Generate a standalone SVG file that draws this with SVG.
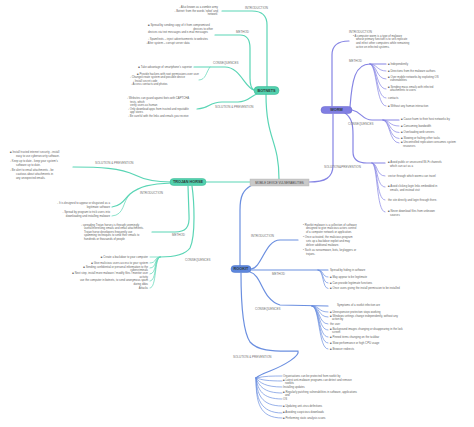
<svg xmlns="http://www.w3.org/2000/svg" width="474" height="427" viewBox="0 0 474 427">
<style>
text{font-family:"Liberation Sans",Arial,sans-serif;fill:#5f5f5f}
.lf{font-size:2.8px}
.lb{font-size:3px;fill:#707070}
.nd{font-size:3.8px;fill:#2d3b3a;font-weight:bold;text-anchor:middle}
.ce{font-size:2.9px;fill:#444;text-anchor:middle}
.r{text-anchor:end}
.t{fill:none;stroke:#5ad5b5;stroke-width:1.2;stroke-linecap:round}
.tt{fill:none;stroke:#5ad5b5;stroke-width:0.7;stroke-linecap:round}
.p{fill:none;stroke:#8584e4;stroke-width:1.2;stroke-linecap:round}
.pt{fill:none;stroke:#8584e4;stroke-width:0.7;stroke-linecap:round}
.b{fill:none;stroke:#6b8fe0;stroke-width:1.2;stroke-linecap:round}
.bt{fill:none;stroke:#6b8fe0;stroke-width:0.7;stroke-linecap:round}
</style>
<rect width="474" height="427" fill="#fff"/>
<g id="connectors">
<path class="t" d="M266 94 C266 140 279 140 279 179"/>
<path class="t" d="M206 182 L250 182"/>
<path class="p" d="M309 182 C325 182 333 178 333 165 L333 114"/>
<path class="b" d="M252 185 C243 190 240 196 240 210 L240 266"/>
<path class="t" d="M222 11 L252 11 C262 11 267 15 267 25 L267 87"/>
<path class="t" d="M215 35 L240 35 C247 35 250 40 250 48 L250 78 C250 85 252 89 254 90"/>
<path class="t" d="M194 67 L225 67 C240 67 245 88 254 90"/>
<path class="tt" d="M199 80 C206 80 206 72 210 67"/>
<path class="t" d="M197 109 C210 109 208 102 222 102 L238 102 C248 102 252 95 257 94"/>
<path class="t" d="M73 167 C100 167 120 168 135 175 C145 180 155 182 171 182"/>
<path class="t" d="M172 183 C150 184 140 186 130 194 C125 198 122 206 112 207"/>
<path class="tt" d="M130 194 C122 202 125 215 112 216"/>
<path class="t" d="M188 186 L189 215 C190 228 185 232 175 232 L152 232"/>
<path class="t" d="M192 186 C194 200 196 235 190 248 C185 255 175 257 160 257"/>
<path class="tt" d="M160 257 L150 257"/>
<path class="tt" d="M160 257 C154 257 157 263 150 263"/>
<path class="tt" d="M160 257 C154 258 157 268 150 268"/>
<path class="tt" d="M160 257 C154 258 157 274 150 274"/>
<path class="tt" d="M160 257 C154 258 157 281 150 281"/>
<path class="tt" d="M160 257 C154 258 157 288 150 288"/>
<path class="p" d="M332 106 L332 55 C332 45 338 41 349 41"/>
<path class="p" d="M350 107 C352 80 355 64 370 64 L386 64"/>
<path class="pt" d="M370 64 C377 64 377 71 386 71"/>
<path class="pt" d="M370 64 C377 64 376 79 386 79"/>
<path class="pt" d="M370 64 C377 64 376 89 386 89"/>
<path class="pt" d="M370 64 C377 64 376 98 386 98"/>
<path class="pt" d="M370 64 C377 64 376 106 386 106"/>
<path class="p" d="M352 110 C362 112 362 120 372 120 L399 120"/>
<path class="pt" d="M383 120 C390 120 389 126 399 126"/>
<path class="pt" d="M383 120 C390 120 389 132.5 399 132.5"/>
<path class="pt" d="M383 120 C390 120 389 138.5 399 138.5"/>
<path class="pt" d="M383 120 C390 120 389 143 399 143"/>
<path class="p" d="M345 113 C352 118 353 125 353 135 L353 152 C353 160 358 163 367 163 L385 163"/>
<path class="pt" d="M372 163 C378 163 376 176 385 176"/>
<path class="pt" d="M372 163 C378 163 376 187 385 187"/>
<path class="pt" d="M372 163 C378 163 376 200 385 200"/>
<path class="pt" d="M372 163 C378 163 376 212 385 212"/>
<path class="b" d="M251 269 C262 268 265 240 280 240 L298 240"/>
<path class="b" d="M251 270 L328 270"/>
<path class="bt" d="M318 270 C324 270 322 277 328 277"/>
<path class="bt" d="M318 270 C324 270 322 283 328 283"/>
<path class="bt" d="M318 270 C324 270 322 288.5 328 288.5"/>
<path class="b" d="M250 272 C262 275 262 300 280 305 L328 306"/>
<path class="bt" d="M312 306 C320 306 318 312 328 312"/>
<path class="bt" d="M312 306 C320 306 318 317 328 317"/>
<path class="bt" d="M312 306 C320 306 318 324 328 324"/>
<path class="bt" d="M312 306 C320 306 318 330 328 330"/>
<path class="bt" d="M312 306 C320 306 318 337 328 337"/>
<path class="bt" d="M312 306 C320 306 318 343 328 343"/>
<path class="bt" d="M312 306 C320 306 318 349 328 349"/>
<path class="b" d="M241 273 C241 300 242 330 250 342 C257 350 270 352 298 351 C300 356 285 365 270 371 C262 374 258 376 256 378"/>
<path class="bt" d="M256 378 C265 376 272 376 282 376"/>
<path class="bt" d="M256 378 C262 380 268 381 282 381"/>
<path class="bt" d="M256 378 C260 383 266 387 282 387"/>
<path class="bt" d="M256 378 C259 386 264 393 282 393"/>
<path class="bt" d="M256 378 C258 390 262 399 282 399"/>
<path class="bt" d="M256 378 C257 394 261 406 282 406"/>
<path class="bt" d="M256 378 C256 398 260 413 282 413"/>
<path class="bt" d="M256 378 C256 402 259 418 282 418"/>
</g>
<g id="center">
<rect x="250" y="179" width="59" height="7" fill="#c9c9c9" stroke="#b5b5b5" stroke-width="0.4"/>
<text class="ce" x="279.5" y="183.6">MOBILE DEVICE VULNERABILITIES</text>
</g>
<g id="botnets">
<rect x="254" y="86.5" width="25" height="8" rx="4" fill="#52d1ae" stroke="#35b792" stroke-width="0.5"/>
<text class="nd" x="266.5" y="92">BOTNETS</text>
<text class="lb" x="245" y="8.5">INTRODUCTION</text>
<text class="lf r" x="218" y="7.5">- Also known as a zombie army</text>
<text class="lf r" x="218" y="11.5">- Botnet: from the words 'robot' and</text>
<text class="lf r" x="218" y="15">'network'</text>
<text class="lb" x="236" y="32.5">METHOD</text>
<text class="lf" x="148" y="26">■ Spread by sending copy of it from compromised</text>
<text class="lf r" x="213" y="29.5">devices to other</text>
<text class="lf" x="148" y="33">devices via text messages and e-mail messages</text>
<text class="lf" x="148" y="40">◦ Spam/texts – inject advertisements to websites</text>
<text class="lf" x="146" y="44">◦ Alter system – corrupt server data</text>
<text class="lb" x="213" y="63.5">CONSEQUENCES</text>
<text class="lf r" x="192" y="67.8">■ Take advantage of smartphone's superior</text>
<text class="lf" x="137" y="74.5">■ Provide hackers with root permissions over user</text>
<text class="lf" x="130" y="78">◦ Change/create system and possible device</text>
<text class="lf" x="133" y="81.5">◦ Install secret code</text>
<text class="lf" x="131" y="85">◦ Access contacts and photos</text>
<text class="lb" x="215" y="108">SOLUTION &amp; PREVENTION</text>
<text class="lf" x="127" y="99">◦ Websites can guard against bots with CAPTCHA</text>
<text class="lf" x="130" y="102.5">tests, which</text>
<text class="lf" x="130" y="106">verify users as human</text>
<text class="lf" x="128" y="109.5">◦ Only download apps from trusted and reputable</text>
<text class="lf" x="130" y="113">app stores</text>
<text class="lf" x="128" y="116.5">◦ Be careful with the links and emails you receive</text>
</g>
<g id="trojan">
<rect x="170" y="178.5" width="36" height="7" rx="3.5" fill="#52d1ae" stroke="#35b792" stroke-width="0.5"/>
<text class="nd" x="188" y="183.4">TROJAN HORSE</text>
<text class="lb" x="95" y="163.5">SOLUTION &amp; PREVENTION</text>
<text class="lf" x="10" y="153">■ Install trusted internet security - install</text>
<text class="lf" x="16" y="157">easy to use cybersecurity software.</text>
<text class="lf" x="10" y="162">◦ Keep up to date - keep your system's</text>
<text class="lf" x="16" y="166">software up to date.</text>
<text class="lf" x="10" y="171">◦ Be alert to email attachments - be</text>
<text class="lf" x="16" y="175">cautious about attachments in</text>
<text class="lf" x="16" y="179">any unexpected emails.</text>
<text class="lb" x="140" y="193.5">INTRODUCTION</text>
<text class="lf r" x="110" y="203.5">- It is designed to appear or disguised as a</text>
<text class="lf r" x="110" y="207.5">legitimate software</text>
<text class="lf r" x="110" y="212.5">- Spread by program to trick users into</text>
<text class="lf r" x="110" y="216.5">downloading and installing malware</text>
<text class="lb" x="172" y="236">METHOD</text>
<text class="lf" x="81" y="225.5">◦ spreading Trojan horses is through seemingly</text>
<text class="lf" x="84" y="229">useful/interesting emails and email attachments.</text>
<text class="lf" x="84" y="232.5">Trojan horse developers frequently use</text>
<text class="lf" x="84" y="236">spamming techniques to send their emails to</text>
<text class="lf" x="84" y="239.5">hundreds or thousands of people</text>
<text class="lb" x="185" y="260.5">CONSEQUENCES</text>
<text class="lf r" x="148" y="258">■ Create a backdoor to your computer</text>
<text class="lf r" x="148" y="263.5">■ Give malicious users access to your system</text>
<text class="lf r" x="148" y="267.5">■ Sending confidential or personal information to the</text>
<text class="lf r" x="148" y="271">cybercriminals</text>
<text class="lf r" x="148" y="274">■ Next step, install more malware / modify files / monitor user</text>
<text class="lf r" x="148" y="277.5">activity</text>
<text class="lf r" x="148" y="281">use the computer in botnets, to send anonymous spam</text>
<text class="lf r" x="148" y="284.5">during ddos</text>
<text class="lf r" x="148" y="289">Attacks</text>
</g>
<g id="worm">
<rect x="321" y="106.5" width="31" height="7" rx="3.5" fill="#807ee2" stroke="#6664cf" stroke-width="0.5"/>
<text class="nd" x="336.5" y="111.4">WORM</text>
<text class="lb" x="349" y="32.5">INTRODUCTION</text>
<text class="lf" x="353" y="36.5">• A computer worm is a type of malware</text>
<text class="lf" x="356" y="40">whose primary function is to self-replicate</text>
<text class="lf" x="356" y="43.5">and infect other computers while remaining</text>
<text class="lf" x="356" y="48">active on infected systems.</text>
<text class="lb" x="349" y="61.5">METHOD</text>
<text class="lf" x="388" y="65">■ Independently</text>
<text class="lf" x="388" y="71.5">■ Directions from the malware authors</text>
<text class="lf" x="388" y="77.5">■ Over mobile networks by exploiting OS</text>
<text class="lf" x="390" y="81">vulnerabilities</text>
<text class="lf" x="388" y="87.5">■ Sending mass emails with infected</text>
<text class="lf" x="390" y="91">attachments to users'</text>
<text class="lf" x="388" y="98.5">contacts</text>
<text class="lf" x="388" y="106.5">■ Without any human interaction</text>
<text class="lb" x="348" y="124.5">CONSEQUENCES</text>
<text class="lf" x="401" y="120">■ Cause harm to their host networks by</text>
<text class="lf" x="401" y="126.5">■ Consuming bandwidth</text>
<text class="lf" x="401" y="133">■ Overloading web servers</text>
<text class="lf" x="401" y="139">■ Slowing or halting other tasks</text>
<text class="lf" x="401" y="143">■ Uncontrolled replication consumes system</text>
<text class="lf" x="403" y="146.5">resources</text>
<text class="lb" x="324" y="167.5">SOLUTION&amp;PREVENTION</text>
<text class="lf" x="388" y="163">■ Avoid public or unsecured Wi-Fi channels</text>
<text class="lf" x="390" y="166.5">which can act as a</text>
<text class="lf" x="388" y="177">vector through which worms can travel</text>
<text class="lf" x="388" y="187">■ Avoid clicking login links embedded in</text>
<text class="lf" x="390" y="190.5">emails, and instead visit</text>
<text class="lf" x="388" y="201">the site directly and login through there.</text>
<text class="lf" x="388" y="212">■ Never download files from unknown</text>
<text class="lf" x="390" y="215.5">sources</text>
</g>
<g id="rookit">
<rect x="231" y="265.5" width="20" height="7" rx="3.5" fill="#5d86dc" stroke="#4570c8" stroke-width="0.5"/>
<text class="nd" x="241" y="270.4">ROOKIT</text>
<text class="lb" x="251" y="236.5">INTRODUCTION</text>
<text class="lf" x="303" y="225.5">• Rootkit malware is a collection of software</text>
<text class="lf" x="306" y="229">designed to give malicious actors control</text>
<text class="lf" x="306" y="233">of a computer network or application.</text>
<text class="lf" x="303" y="238">• Once activated, the malicious program</text>
<text class="lf" x="306" y="242">sets up a backdoor exploit and may</text>
<text class="lf" x="306" y="246">deliver additional malware.</text>
<text class="lf" x="303" y="251">• Such as ransomware, bots, keyloggers or</text>
<text class="lf" x="306" y="255">trojans.</text>
<text class="lb" x="272" y="274.5">METHOD</text>
<text class="lf" x="330" y="271">Spread by hiding in software</text>
<text class="lf" x="330" y="277.5">■ May appear to be legitimate</text>
<text class="lf" x="330" y="283.5">■ Can provide legitimate functions</text>
<text class="lf" x="330" y="289">■ Once users giving the install permission to be installed</text>
<text class="lb" x="255" y="309.5">CONSEQUENCES</text>
<text class="lf" x="337" y="306">Symptoms of a rootkit infection are</text>
<text class="lf" x="330" y="312.5">■ Unresponsive protection stops working</text>
<text class="lf" x="330" y="316.5">■ Windows settings change independently, without any</text>
<text class="lf" x="332" y="320">action by</text>
<text class="lf" x="330" y="324.5">the user</text>
<text class="lf" x="330" y="329.5">■ Background images changing or disappearing in the lock</text>
<text class="lf" x="332" y="333">screen</text>
<text class="lf" x="330" y="337.5">■ Pinned items changing on the taskbar</text>
<text class="lf" x="330" y="343.5">■ Slow performance or high CPU usage</text>
<text class="lf" x="330" y="349.5">■ Browser redirects</text>
<text class="lb" x="233" y="357.5">SOLUTION &amp; PREVENTION</text>
<text class="lf" x="283" y="376.5">Organisations can be protected from rootkit by</text>
<text class="lf" x="283" y="380.5">■ Latest anti-malware programs can detect and remove</text>
<text class="lf" x="285" y="384">rootkits</text>
<text class="lf" x="283" y="388">Installing updates</text>
<text class="lf" x="283" y="392.5">■ Regularly patching vulnerabilities in software, applications</text>
<text class="lf" x="285" y="396">and</text>
<text class="lf" x="283" y="400">OS</text>
<text class="lf" x="283" y="406.5">■ Updating anti-virus definitions</text>
<text class="lf" x="283" y="413">■ Avoiding suspicious downloads</text>
<text class="lf" x="283" y="419">■ Performing static analysis scans</text>
</g>
</svg>
